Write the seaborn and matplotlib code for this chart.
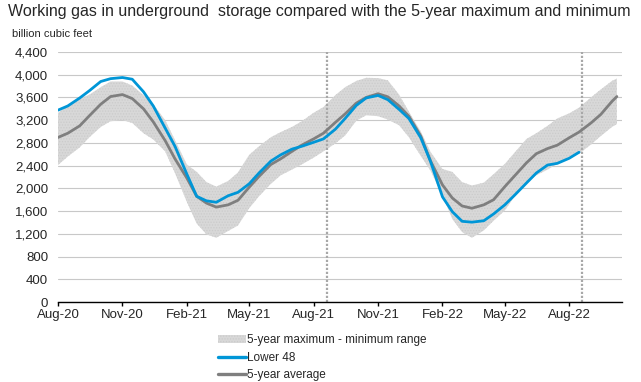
import pandas as pd
import matplotlib.pyplot as plt
import matplotlib.dates as mdates
from matplotlib.patches import Patch
from matplotlib.lines import Line2D
import seaborn as sns

# values (billion cubic feet), twice a month
l48_dates = pd.date_range("2020-08-01", "2022-08-15", freq="SMS")
l48_values = [
    3376, 3450, 3590, 3720, 3880, 3930, 3950, 3920, 3700, 3450,
    3060, 2740, 2250, 1860, 1780, 1755, 1870, 1930, 2080, 2270, 2480, 2590,
    2690, 2740, 2810, 2870, 3040, 3230, 3460, 3590, 3635, 3560, 3390, 3230,
    2890, 2470, 1850, 1590, 1420, 1405, 1430, 1550, 1710, 1880, 2095, 2270,
    2410, 2440, 2530, 2635,
]

band_dates = pd.date_range("2020-08-01", "2022-10-01", freq="SMS").append(
    pd.DatetimeIndex(["2022-10-08"]))
avg_values = [
    2896, 2970, 3100, 3280, 3480, 3615, 3650, 3580, 3400, 3170,
    2840, 2520, 2180, 1860, 1740, 1670, 1710, 1790, 2020, 2210, 2420, 2520,
    2650, 2760, 2870, 2970, 3160, 3310, 3500, 3600, 3665, 3610, 3450, 3270,
    2920, 2480, 2060, 1830, 1690, 1650, 1710, 1800, 2030, 2220, 2450, 2610,
    2700, 2760, 2890, 2990, 3150, 3300, 3530, 3616,
]
max_values = [
    3330, 3450, 3580, 3650, 3780, 3880, 3880, 3810, 3640, 3480,
    3200, 2850, 2420, 2290, 2110, 2030, 2130, 2280, 2590, 2740, 2900, 2990,
    3080, 3180, 3330, 3430, 3640, 3780, 3890, 3945, 3940, 3900, 3650, 3350,
    3000, 2640, 2340, 2290, 2110, 2050, 2100, 2250, 2430, 2630, 2870, 2970,
    3100, 3230, 3320, 3420, 3600, 3740, 3890, 3932,
]
min_values = [
    2410, 2560, 2720, 2900, 3080, 3180, 3200, 3150, 2970, 2860,
    2650, 2270, 1760, 1380, 1190, 1130, 1250, 1346, 1650, 1860, 2080, 2230,
    2330, 2420, 2540, 2650, 2790, 2930, 3190, 3285, 3270, 3210, 3110, 2900,
    2570, 2310, 1870, 1460, 1230, 1130, 1260, 1430, 1610, 1860, 2100, 2230,
    2330, 2430, 2560, 2610, 2770, 2920, 3080, 3130,
]
week_marks = ["2021-08-20", "2022-08-19"]
y_ticks = list(range(0, 4401, 400))

l48 = pd.DataFrame({"date": l48_dates, "value": l48_values})
band = pd.DataFrame({"date": band_dates, "avg": avg_values,
                     "max": max_values, "min": min_values})

sns.set_style("white")
plt.rcParams["font.family"] = ["Liberation Sans", "DejaVu Sans"]
plt.rcParams["hatch.linewidth"] = 0.6

BLUE = "#0096d7"
GREY = "#7f7f7f"
BAND = "#d8d8d8"
STIPPLE = "#cbcbcb"

fig = plt.figure(figsize=(6.41, 3.82), dpi=100)
ax = fig.add_axes([0.0905, 0.2094, 0.8795, 0.6546])

ax.fill_between(band["date"], band["min"], band["max"], facecolor=BAND,
                edgecolor=STIPPLE, hatch="......", linewidth=0, zorder=1)
sns.lineplot(data=band, x="date", y="avg", color=GREY, linewidth=2.0, ax=ax, zorder=3)
sns.lineplot(data=l48, x="date", y="value", color=BLUE, linewidth=2.0, ax=ax, zorder=4)

for d in week_marks:
    ax.axvline(pd.Timestamp(d), color="#a8a8a8", linestyle=(0, (1, 0.8)),
               linewidth=1.6, zorder=2)

ax.set_ylim(0, 4400)
ax.set_yticks(y_ticks)
ax.yaxis.set_major_formatter(plt.FuncFormatter(lambda v, p: f"{int(v):,}"))
ax.set_xlim(pd.Timestamp("2020-08-01"), pd.Timestamp("2022-10-15"))
ax.xaxis.set_major_locator(mdates.MonthLocator(bymonth=[2, 5, 8, 11]))
ax.xaxis.set_major_formatter(mdates.DateFormatter("%b-%y"))

ax.grid(axis="y", color="#c8c8c8", linewidth=0.8, zorder=0)
ax.set_axisbelow(True)
for side in ["left", "right", "top"]:
    ax.spines[side].set_visible(False)
ax.spines["bottom"].set_color("black")
ax.spines["bottom"].set_linewidth(1.0)
ax.tick_params(axis="x", bottom=True, length=3, width=1, color="black",
               labelsize=9.5, pad=2)
ax.tick_params(axis="y", left=False, length=0, labelsize=9.5, pad=7)
ax.set_xlabel("")
ax.set_ylabel("")

fig.text(0.012, 0.99, "Working gas in underground  storage compared with the 5-year maximum and minimum",
         fontsize=11.5, va="top", ha="left")
fig.text(0.019, 0.91, "billion cubic feet", fontsize=8, va="center", ha="left")

handles = [
    Patch(facecolor=BAND, edgecolor=STIPPLE, hatch="......", linewidth=0),
    Line2D([0], [0], color=BLUE, linewidth=2.4),
    Line2D([0], [0], color=GREY, linewidth=2.4),
]
labels = ["5-year maximum - minimum range", "Lower 48", "5-year average"]
fig.legend(handles, labels, loc="upper left", bbox_to_anchor=(0.34, 0.125),
           frameon=False, fontsize=8.5, handlelength=2.4, handleheight=0.6,
           handletextpad=0.1, labelspacing=0.45, borderpad=0, borderaxespad=0)

fig.savefig("out.png", dpi=100)
